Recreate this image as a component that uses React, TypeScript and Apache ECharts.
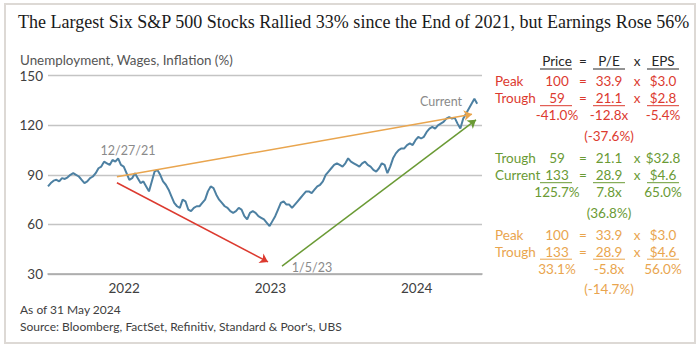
import React, { useEffect, useRef } from "react";
import * as echarts from "echarts";

const TITLE = "The Largest Six S&P 500 Stocks Rallied 33% since the End of 2021, but Earnings Rose 56%";
const Y_AXIS_NAME = "Unemployment, Wages, Inflation (%)";
const FOOTNOTES = ["As of 31 May 2024", "Source: Bloomberg, FactSet, Refinitiv, Standard & Poor's, UBS"];

// weekly closes (Fridays) starting 2021-06-25, indexed to peak = 100
const FIRST_WEEK = Date.UTC(2021, 5, 25);
const indexValues = [
  83, 85, 86.5, 87, 86, 88, 87.5, 88.5, 90, 91,
  90, 89, 87, 85, 86, 88, 89, 91, 94, 95,
  98, 97, 96, 99, 98, 100, 96, 95, 91, 87,
  88, 91, 88, 85, 86, 83, 80, 86, 92, 93,
  90, 86, 84, 81, 77, 73, 71, 70, 75, 74,
  69, 68, 70, 71, 71, 73, 75, 80, 83, 82,
  78, 75, 73, 71, 70, 68, 67, 68, 70, 69,
  65, 63, 67, 68, 67, 65, 64, 63, 61, 59,
  62, 65, 69, 73, 74, 72, 72, 70, 72, 74,
  76, 78, 80, 80, 79, 81, 83, 84, 86, 90,
  92, 94, 96, 97, 96, 95, 97, 100, 98, 97,
  96, 95, 97, 98, 96, 95, 93, 92, 94, 97,
  96, 91, 95, 100, 103, 105, 106, 106, 108, 109,
  108, 111, 113, 112, 113, 116, 118, 119, 118, 120,
  121, 122, 124, 125, 124, 124.5, 121, 118, 124, 127,
  130, 133, 136, 133,
];

const yearTicks = [Date.UTC(2022, 0, 1), Date.UTC(2023, 0, 1), Date.UTC(2024, 0, 1)];
const yearLabels = ["2022", "2023", "2024"];
const yTicks = [30, 60, 90, 120, 150];
const X_MIN = Date.UTC(2021, 5, 25);
const X_MAX = Date.UTC(2024, 5, 12);

const peakLabel = "12/27/21";
const troughLabel = "1/5/23";
const currentLabel = "Current";

const orangeArrow = [[Date.UTC(2021, 11, 14), 88.8], [Date.UTC(2024, 4, 18), 126.7]];
const redArrow = [[Date.UTC(2021, 11, 14), 85.2], [Date.UTC(2022, 11, 26), 37.3]];
const greenArrow = [[Date.UTC(2023, 0, 30), 34.8], [Date.UTC(2024, 4, 28), 123.3]];

const tableHeader = ["", "Price", "=", "P/E", "x", "EPS"];
const redRows = [
  ["Peak", "100", "=", "33.9", "x", "$3.0"],
  ["Trough", "59", "=", "21.1", "x", "$2.8"],
  ["", "-41.0%", "", "-12.8x", "", "-5.4%"],
];
const redTotal = "(-37.6%)";
const greenRows = [
  ["Trough", "59", "=", "21.1", "x", "$32.8"],
  ["Current", "133", "=", "28.9", "x", "$4.6"],
  ["", "125.7%", "", "7.8x", "", "65.0%"],
];
const greenTotal = "(36.8%)";
const orangeRows = [
  ["Peak", "100", "=", "33.9", "x", "$3.0"],
  ["Trough", "133", "=", "28.9", "x", "$4.6"],
  ["", "33.1%", "", "-5.8x", "", "56.0%"],
];
const orangeTotal = "(-14.7%)";

const RED = "#dc3a2f";
const GREEN = "#6a9a34";
const ORANGE = "#e9a54e";
const LINE_BLUE = "#4d80a2";
const SANS = "Lato, 'Noto Sans', sans-serif";

export default function App() {
  const ref = useRef<HTMLDivElement>(null);
  useEffect(() => {
    if (!ref.current) return;
    const chart = echarts.init(ref.current, null, { renderer: "svg" });

    const seriesData = indexValues.map((v, i) => [FIRST_WEEK + i * 7 * 86400000, v]);

    const colX = [495, 557, 583, 609, 637, 663];
    const underlineSpans = [[540, 572], [593, 625], [647, 679]];
    const graphics: any[] = [];
    const txt = (text: string, x: number, y: number, fill: string, size: number, align = "center", family = SANS, scaleX = 1) =>
      graphics.push({
        type: "text",
        x,
        y,
        scaleX,
        silent: true,
        style: { text, fill, font: `${size}px ${family}`, align, verticalAlign: "middle" },
      });
    const uline = (y: number, color: string) =>
      underlineSpans.forEach(([a, b]) =>
        graphics.push({ type: "line", silent: true, shape: { x1: a, y1: y, x2: b, y2: y }, style: { stroke: color, lineWidth: 1 } })
      );

    graphics.push({
      type: "rect",
      silent: true,
      shape: { x: 5, y: 4, width: 690, height: 339 },
      style: { fill: "none", stroke: "#ddd9d5", lineWidth: 2 },
    });
    txt(TITLE, 18, 21, "#1a1a1a", 19.5, "left", "'Liberation Serif', 'DejaVu Serif', serif", 0.925);
    txt(Y_AXIS_NAME, 20, 60, "#555555", 13.4, "left");
    txt(FOOTNOTES[0], 20, 309, "#404040", 12, "left");
    txt(FOOTNOTES[1], 20, 326, "#404040", 12, "left");
    txt(peakLabel, 128, 150, "#8a8a8a", 12.5);
    txt(currentLabel, 441, 101, "#8a8a8a", 12.5);
    txt(troughLabel, 312, 267, "#8a8a8a", 12.5);

    tableHeader.forEach((t, c) => {
      if (t) txt(t, colX[c], 61, "#262626", 13.5, c === 0 ? "left" : "center");
    });
    uline(69, "#262626");

    const blocks = [
      { rows: redRows, total: redTotal, color: RED, y0: 81 },
      { rows: greenRows, total: greenTotal, color: GREEN, y0: 158 },
      { rows: orangeRows, total: orangeTotal, color: ORANGE, y0: 234.5 },
    ];
    blocks.forEach((b) => {
      b.rows.forEach((row, r) => {
        const y = b.y0 + r * 17.2;
        row.forEach((t, c) => {
          if (t) txt(t, colX[c], y, b.color, 13.5, c === 0 ? "left" : "center");
        });
        if (r === 1) uline(y + 7.5, b.color);
      });
      txt(b.total, colX[3], b.y0 + 54.5, b.color, 13.5);
    });

    const arrow = (pts: number[][], color: string) => [
      { coord: pts[0], lineStyle: { color, width: 1.5, type: "solid" }, itemStyle: { color } },
      { coord: pts[1] },
    ];

    chart.setOption({
      animation: false,
      backgroundColor: "#ffffff",
      grid: { left: 48, right: 218, top: 75.7, bottom: 78 },
      xAxis: {
        type: "value",
        min: X_MIN,
        max: X_MAX,
        axisLine: { show: true, lineStyle: { color: "#a6a6a6", width: 1.5 } },
        axisTick: { show: false },
        splitLine: { show: false },
        axisLabel: {
          customValues: yearTicks,
          formatter: (v: number) => {
            const k = yearTicks.indexOf(v);
            return k >= 0 ? yearLabels[k] : "";
          },
          color: "#404040",
          fontSize: 13.5,
          fontFamily: SANS,
          margin: 7,
        },
      },
      yAxis: {
        type: "value",
        min: 30,
        max: 150,
        interval: 30,
        axisLine: { show: false },
        axisTick: { show: false },
        splitLine: { lineStyle: { color: "#c4c4c4", width: 1.3 } },
        axisLabel: {
          color: "#404040",
          fontSize: 13.5,
          fontFamily: SANS,
          margin: 5,
          formatter: (v: number) => (yTicks.includes(v) ? String(v) : ""),
        },
      },
      series: [
        {
          type: "line",
          data: seriesData,
          showSymbol: false,
          symbol: "none",
          lineStyle: { color: LINE_BLUE, width: 2 },
          z: 3,
          markLine: {
            silent: true,
            animation: false,
            symbol: ["none", "arrow"],
            symbolSize: 8,
            label: { show: false },
            data: [arrow(orangeArrow, ORANGE), arrow(redArrow, RED), arrow(greenArrow, GREEN)],
          },
        },
      ],
      graphic: graphics,
    });
    return () => chart.dispose();
  }, []);
  return <div ref={ref} style={{ position: "fixed", left: 0, top: 0, width: 700, height: 352, background: "#fff" }} />;
}
